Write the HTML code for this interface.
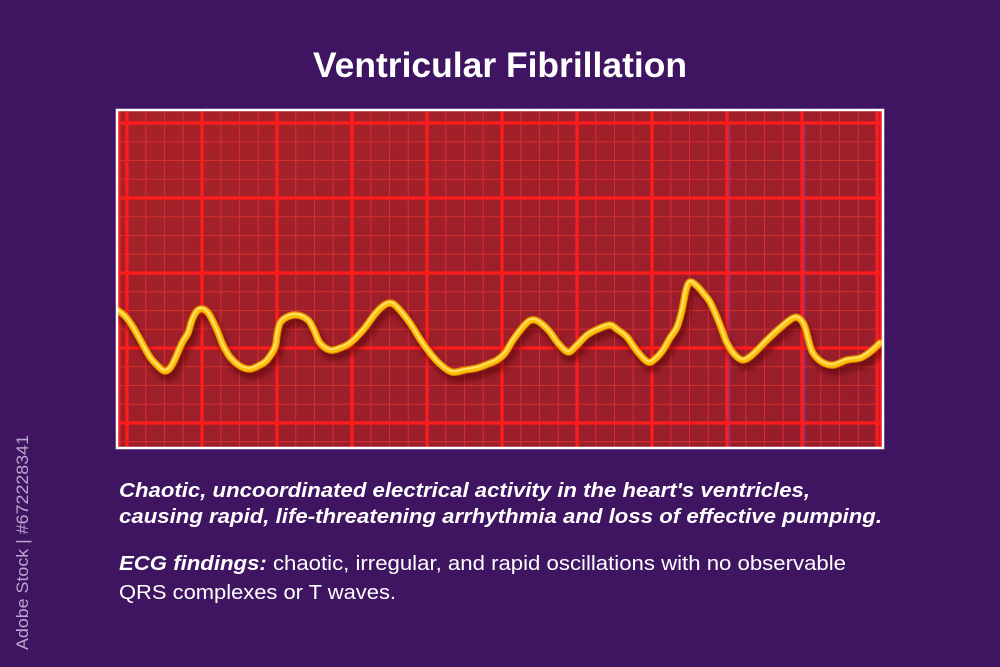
<!DOCTYPE html>
<html>
<head>
<meta charset="utf-8">
<style>
html,body{margin:0;padding:0;background:#3f1562;}
svg{display:block;}
</style>
</head>
<body>
<svg id="root" width="1000" height="667" viewBox="0 0 1000 667" xmlns="http://www.w3.org/2000/svg">
  <defs>
    <linearGradient id="bg" x1="0" y1="0" x2="1" y2="1">
      <stop offset="0" stop-color="#a82328"/>
      <stop offset="0.5" stop-color="#9d1f2a"/>
      <stop offset="1" stop-color="#971d2c"/>
    </linearGradient>
    <pattern id="grid" patternUnits="userSpaceOnUse" x="127" y="123" width="75" height="75">
      <g stroke="#e0302f" stroke-width="1" opacity="0.85">
        <line x1="18.75" y1="0" x2="18.75" y2="75"/>
        <line x1="37.5" y1="0" x2="37.5" y2="75"/>
        <line x1="56.25" y1="0" x2="56.25" y2="75"/>
        <line x1="0" y1="18.75" x2="75" y2="18.75"/>
        <line x1="0" y1="37.5" x2="75" y2="37.5"/>
        <line x1="0" y1="56.25" x2="75" y2="56.25"/>
      </g>
      <g stroke="#ff1c1c" stroke-width="3.2">
        <line x1="0" y1="0" x2="0" y2="75"/>
        <line x1="75" y1="0" x2="75" y2="75"/>
        <line x1="0" y1="0" x2="75" y2="0"/>
        <line x1="0" y1="75" x2="75" y2="75"/>
      </g>
    </pattern>
    <clipPath id="clip"><rect x="118" y="111" width="764" height="336"/></clipPath>
    <filter id="blur" x="-10%" y="-50%" width="120%" height="200%"><feGaussianBlur stdDeviation="3"/></filter>
  </defs>

  <rect width="1000" height="667" fill="#3f1562"/>

  <text x="500" y="77" text-anchor="middle" font-family="Liberation Sans, Arial, sans-serif" font-weight="bold" font-size="35" fill="#ffffff" textLength="374" lengthAdjust="spacingAndGlyphs">Ventricular Fibrillation</text>

  <g clip-path="url(#clip)">
    <rect x="118" y="111" width="764" height="336" fill="url(#bg)"/>
    <g stroke="#7a4fd0" stroke-width="3" opacity="0.45">
      <line x1="729" y1="125" x2="729" y2="447"/>
      <line x1="804" y1="125" x2="804" y2="447"/>
    </g>
    <rect x="118" y="111" width="764" height="336" fill="url(#grid)"/>
    <line x1="119.5" y1="111" x2="119.5" y2="447" stroke="#ff1c1c" stroke-width="2"/>
    <line x1="880.5" y1="111" x2="880.5" y2="447" stroke="#ff1c1c" stroke-width="2"/>

    <g fill="none" stroke-linejoin="round" stroke-linecap="round">
      <polyline class="w" transform="translate(3,6)" filter="url(#blur)" stroke="#4a0508" stroke-opacity="0.55" stroke-width="8"
        points="117,310 125,316 133,327 142,343 150,357 158,366 165,371 172,365 182,343 188,333 192,320 197,311 203,309 209,314 217,330 223,345 230,357 240,366 250,369 260,365 267,360 275,347 277,335 280,323 287,317 297,315 308,320 314,330 320,343 330,350 340,348 350,343 363,330 375,314 383,306 390,303 397,307 410,323 420,339 430,353 440,364 452,372 465,370 477,368 488,364 497,360 505,353 513,340 522,328 529,321 535,320 542,324 550,332 558,343 568,352 576,346 587,335 598,329 610,325 618,330 627,337 637,351 648,362 656,358 663,350 670,338 677,327 682,310 686,290 690,282 697,286 704,294 710,302 716,315 722,330 727,343 735,355 743,360 752,355 767,340 780,328 793,318 800,319 805,327 809,342 813,353 822,362 833,365 847,360 860,358 870,352 880,343"/>
      <polyline class="w" stroke="#e08a00" stroke-width="7.4"
        points="117,310 125,316 133,327 142,343 150,357 158,366 165,371 172,365 182,343 188,333 192,320 197,311 203,309 209,314 217,330 223,345 230,357 240,366 250,369 260,365 267,360 275,347 277,335 280,323 287,317 297,315 308,320 314,330 320,343 330,350 340,348 350,343 363,330 375,314 383,306 390,303 397,307 410,323 420,339 430,353 440,364 452,372 465,370 477,368 488,364 497,360 505,353 513,340 522,328 529,321 535,320 542,324 550,332 558,343 568,352 576,346 587,335 598,329 610,325 618,330 627,337 637,351 648,362 656,358 663,350 670,338 677,327 682,310 686,290 690,282 697,286 704,294 710,302 716,315 722,330 727,343 735,355 743,360 752,355 767,340 780,328 793,318 800,319 805,327 809,342 813,353 822,362 833,365 847,360 860,358 870,352 880,343"/>
      <polyline class="w" stroke="#ffc20a" stroke-width="5.2"
        points="117,310 125,316 133,327 142,343 150,357 158,366 165,371 172,365 182,343 188,333 192,320 197,311 203,309 209,314 217,330 223,345 230,357 240,366 250,369 260,365 267,360 275,347 277,335 280,323 287,317 297,315 308,320 314,330 320,343 330,350 340,348 350,343 363,330 375,314 383,306 390,303 397,307 410,323 420,339 430,353 440,364 452,372 465,370 477,368 488,364 497,360 505,353 513,340 522,328 529,321 535,320 542,324 550,332 558,343 568,352 576,346 587,335 598,329 610,325 618,330 627,337 637,351 648,362 656,358 663,350 670,338 677,327 682,310 686,290 690,282 697,286 704,294 710,302 716,315 722,330 727,343 735,355 743,360 752,355 767,340 780,328 793,318 800,319 805,327 809,342 813,353 822,362 833,365 847,360 860,358 870,352 880,343"/>
      <polyline class="w" transform="translate(-0.5,-1)" stroke="#ffe98a" stroke-width="1.6" stroke-opacity="0.9"
        points="117,310 125,316 133,327 142,343 150,357 158,366 165,371 172,365 182,343 188,333 192,320 197,311 203,309 209,314 217,330 223,345 230,357 240,366 250,369 260,365 267,360 275,347 277,335 280,323 287,317 297,315 308,320 314,330 320,343 330,350 340,348 350,343 363,330 375,314 383,306 390,303 397,307 410,323 420,339 430,353 440,364 452,372 465,370 477,368 488,364 497,360 505,353 513,340 522,328 529,321 535,320 542,324 550,332 558,343 568,352 576,346 587,335 598,329 610,325 618,330 627,337 637,351 648,362 656,358 663,350 670,338 677,327 682,310 686,290 690,282 697,286 704,294 710,302 716,315 722,330 727,343 735,355 743,360 752,355 767,340 780,328 793,318 800,319 805,327 809,342 813,353 822,362 833,365 847,360 860,358 870,352 880,343"/>
    </g>
  </g>
  <rect x="117" y="110" width="766" height="338" fill="none" stroke="#ffffff" stroke-width="2.5"/>

  <g font-family="Liberation Sans, Arial, sans-serif" font-size="20" fill="#ffffff">
    <text x="119" y="497" font-weight="bold" font-style="italic" textLength="691" lengthAdjust="spacingAndGlyphs">Chaotic, uncoordinated electrical activity in the heart's ventricles,</text>
    <text x="119" y="523" font-weight="bold" font-style="italic" textLength="763" lengthAdjust="spacingAndGlyphs">causing rapid, life-threatening arrhythmia and loss of effective pumping.</text>
    <text x="119" y="570" textLength="727" lengthAdjust="spacingAndGlyphs"><tspan font-weight="bold" font-style="italic">ECG findings:</tspan> chaotic, irregular, and rapid oscillations with no observable</text>
    <text x="119" y="599" textLength="277" lengthAdjust="spacingAndGlyphs">QRS complexes or T waves.</text>
  </g>

  <text transform="translate(28,650) rotate(-90)" font-family="Liberation Sans, Arial, sans-serif" font-size="17" fill="#bba8cf" textLength="215" lengthAdjust="spacingAndGlyphs">Adobe Stock | #672228341</text>
</svg>
<script>
(function(){
  try{
    var NS="http://www.w3.org/2000/svg";
    var pls=document.querySelectorAll("polyline.w");
    for(var k=0;k<pls.length;k++){
      var pl=pls[k];
      var raw=pl.getAttribute("points").trim().split(/\s+/);
      var p=raw.map(function(s){var a=s.split(",");return [parseFloat(a[0]),parseFloat(a[1])];});
      var d="M"+p[0][0]+","+p[0][1];
      for(var i=0;i<p.length-1;i++){
        var p0=p[i>0?i-1:i],p1=p[i],p2=p[i+1],p3=p[i+2<p.length?i+2:i+1];
        var c1x=p1[0]+(p2[0]-p0[0])/6,c1y=p1[1]+(p2[1]-p0[1])/6;
        var c2x=p2[0]-(p3[0]-p1[0])/6,c2y=p2[1]-(p3[1]-p1[1])/6;
        d+=" C"+c1x.toFixed(2)+","+c1y.toFixed(2)+" "+c2x.toFixed(2)+","+c2y.toFixed(2)+" "+p2[0]+","+p2[1];
      }
      var path=document.createElementNS(NS,"path");
      for(var j=0;j<pl.attributes.length;j++){
        var at=pl.attributes[j];
        if(at.name!=="points"&&at.name!=="class")path.setAttribute(at.name,at.value);
      }
      path.setAttribute("d",d);
      pl.parentNode.replaceChild(path,pl);
    }
  }catch(e){}
})();
</script>
</body>
</html>
